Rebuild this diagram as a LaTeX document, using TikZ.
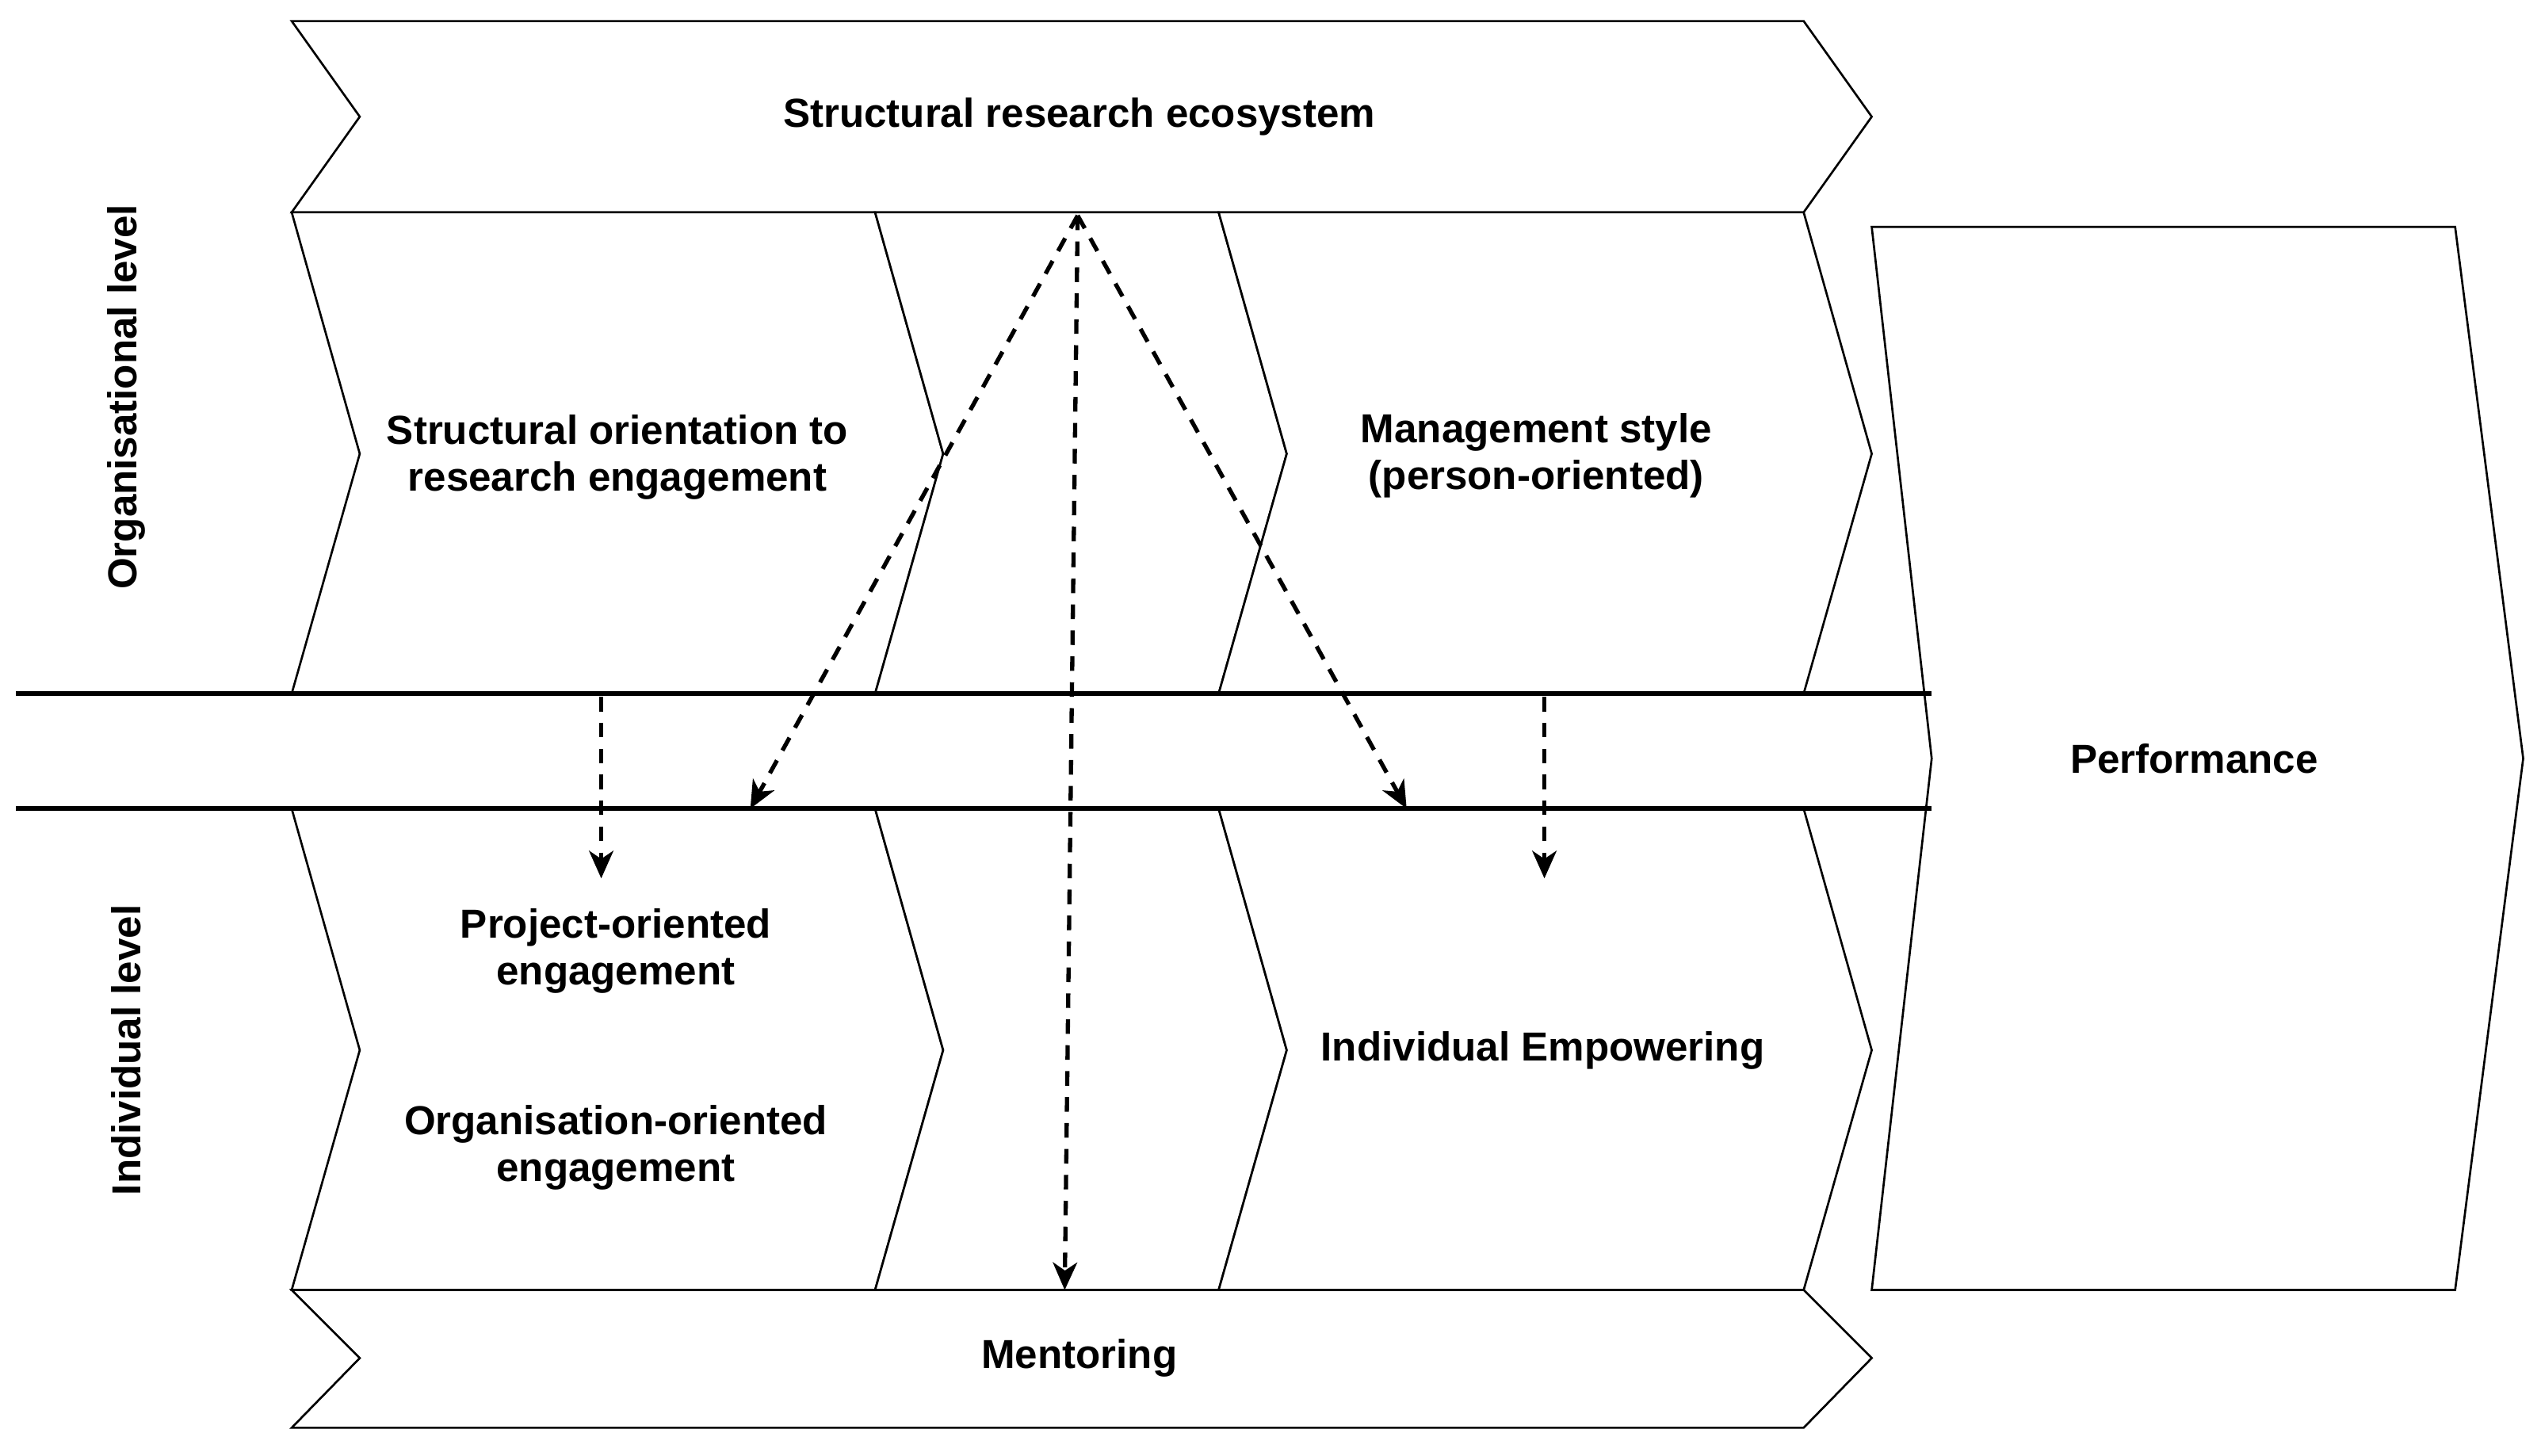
\documentclass[tikz,border=0pt]{standalone}
\usepackage{fontspec}
\setmainfont{Liberation Sans}
\usetikzlibrary{arrows.meta}
\begin{document}
\begin{tikzpicture}[x=1pt,y=-1pt,
  shp/.style={draw=black,line width=1.3pt,fill=white},
  lbl/.style={font=\bfseries\fontsize{25}{29}\selectfont,align=center,inner sep=0},
  darr/.style={line width=2.6pt,dash pattern=on 9pt off 7pt,-{Stealth[length=17pt,width=15pt,inset=5pt]}}]
\useasboundingbox (0,0) rectangle (1568,898);
% top chevron
\draw[shp] (180,13) -- (1113,13) -- (1155,72) -- (1113,131) -- (180,131) -- (222,72) -- cycle;
\node[lbl] (sre) at (666,72) {Structural research ecosystem};
% middle row top
\draw[shp] (180,131) -- (540,131) -- (582,280) -- (540,428) -- (180,428) -- (222,280) -- cycle;
\draw[shp] (540,131) -- (752,131) -- (794,280) -- (752,428) -- (540,428) -- (582,280) -- cycle;
\draw[shp] (752,131) -- (1113,131) -- (1155,280) -- (1113,428) -- (752,428) -- (794,280) -- cycle;
% bottom row
\draw[shp] (180,499) -- (540,499) -- (582,648) -- (540,796) -- (180,796) -- (222,648) -- cycle;
\draw[shp] (540,499) -- (752,499) -- (794,648) -- (752,796) -- (540,796) -- (582,648) -- cycle;
\draw[shp] (752,499) -- (1113,499) -- (1155,648) -- (1113,796) -- (752,796) -- (794,648) -- cycle;
% mentoring
\draw[shp] (180,796) -- (1113,796) -- (1155,838) -- (1113,881) -- (180,881) -- (222,838) -- cycle;
% performance
\draw[shp] (1155,140) -- (1515,140) -- (1557,468) -- (1515,796) -- (1155,796) -- (1192,468) -- cycle;
% band
\draw[line width=3pt] (10,428) -- (1192,428);
\draw[line width=3pt] (10,499) -- (1192,499);
% labels
\node[lbl] (sor) at (381,282) {Structural orientation to\\research engagement};
\node[lbl] (ms) at (948,281) {Management style\\(person-oriented)};
\node[lbl] (poe) at (380,587) {Project-oriented\\engagement};
\node[lbl] (ooe) at (380,708) {Organisation-oriented\\engagement};
\node[lbl] (ie) at (952,648) {Individual Empowering};
\node[lbl] (men) at (666,838) {Mentoring};
\node[lbl] (perf) at (1354,468) {Performance};
\node[lbl,rotate=90] (ol) at (78,245) {Organisational level};
\node[lbl,rotate=90] (il) at (78,648) {Individual level};
% arrows
\coordinate (src) at (665,133);
\coordinate (a1) at (463,499);
\coordinate (a2) at (868,499);
\coordinate (a3) at (657,796);
\coordinate (b1s) at (371,430); \coordinate (b1e) at (371,542);
\coordinate (b2s) at (953,430); \coordinate (b2e) at (953,542);
\draw[darr] (src) -- (a1);
\draw[darr] (src) -- (a2);
\draw[darr] (src) -- (a3);
\draw[darr] (b1s) -- (b1e);
\draw[darr] (b2s) -- (b2e);
\end{tikzpicture}
\end{document}
